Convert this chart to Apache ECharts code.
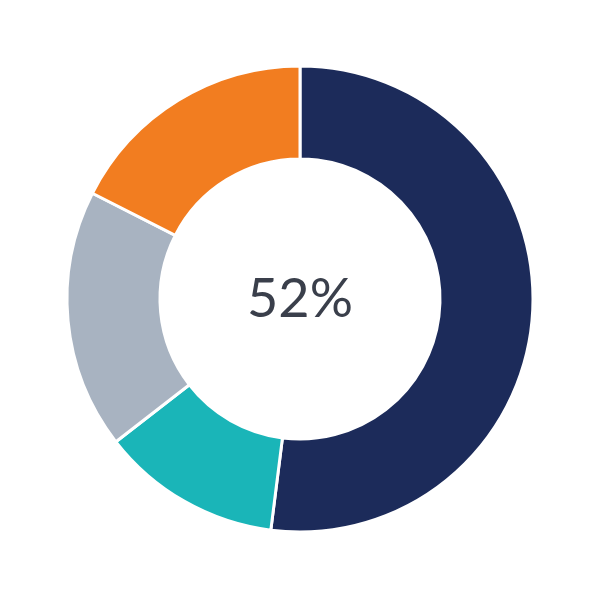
<!DOCTYPE html>
<html><head><meta charset="utf-8">
<script src="https://cdn.jsdelivr.net/npm/echarts@6/dist/echarts.min.js"></script>
<style>html,body{margin:0;padding:0;background:#fff}#c{width:600px;height:600px}</style>
</head><body><div id="c"></div>
<script>
const categories = ['A', 'B', 'C', 'D'];
const values = [52, 12.5, 18, 17.5];
const colors = ['#1c2b5a', '#1ab5b8', '#a8b3c1', '#f27d20'];
const centerLabel = '52%';

const chart = echarts.init(document.getElementById('c'));
chart.setOption({
  animation: false,
  title: {
    text: centerLabel, left: 'center', top: 'middle',
    textStyle: { fontFamily: 'Lato', fontWeight: 'normal', fontSize: 54, color: '#3a3f4b' }
  },
  series: [{
    type: 'pie',
    center: [300, 299],
    radius: [140, 233],
    startAngle: 90,
    clockwise: true,
    label: { show: false },
    labelLine: { show: false },
    itemStyle: { borderColor: '#fff', borderWidth: 3 },
    data: categories.map((c, i) => ({ name: c, value: values[i], itemStyle: { color: colors[i] } }))
  }]
});
</script></body></html>
